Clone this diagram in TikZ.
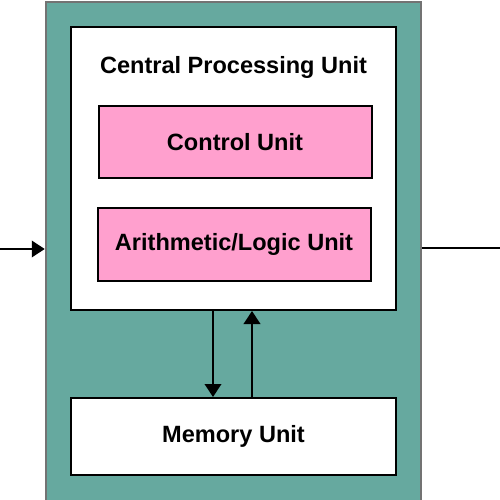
\documentclass[tikz,border=0pt]{standalone}
\usepackage{fontspec}
\setmainfont{Liberation Sans}
\usetikzlibrary{positioning, calc, arrows.meta}
\tikzset{>={Triangle[width=3.3mm, length=2.6mm]}}
\definecolor{cputeal}{RGB}{102,169,159}
\definecolor{unitpink}{RGB}{255,160,206}

\begin{document}
\begin{tikzpicture}
    [
        line width=0.4mm,
        font=\fontsize{13.4}{16}\selectfont\bfseries,
        teal_box/.style={rectangle, draw=black!55, line width=0.5mm, fill=cputeal, minimum width=75mm, minimum height=105mm},
        white_box/.style={rectangle, draw=black, fill=white, minimum width=65mm},
        pink_box/.style={rectangle, draw=black, fill=unitpink, minimum width=54.6mm, minimum height=14.5mm},
    ]

  \useasboundingbox (0,0) rectangle (10,-10);

  \node[teal_box] (outer) at (4.67,-5.29) {};
  \node[white_box, minimum height=56.6mm] (cpu) at (4.67,-3.37) {};
  \node (cpu_title) at (4.67,-1.34) {Central Processing Unit};
  \node[pink_box] (control) at (4.70,-2.84) {Control Unit};
  \node[pink_box] (alu) at (4.68,-4.89) {Arithmetic/Logic Unit};
  \node[white_box, minimum height=15.4mm] (memory) at (4.67,-8.73) {Memory Unit};

  \coordinate (input) at (0,-4.98);
  \coordinate (output) at (10,-4.96);

  \draw[->] ([xshift=-4.1mm]cpu.south) -- ([xshift=-4.1mm]memory.north);
  \draw[->] ([xshift=3.7mm]memory.north) -- ([xshift=3.7mm]cpu.south);
  \draw[->] (input) -- (input -| outer.west);
  \draw (outer.east |- output) -- (output);
\end{tikzpicture}
\end{document}
